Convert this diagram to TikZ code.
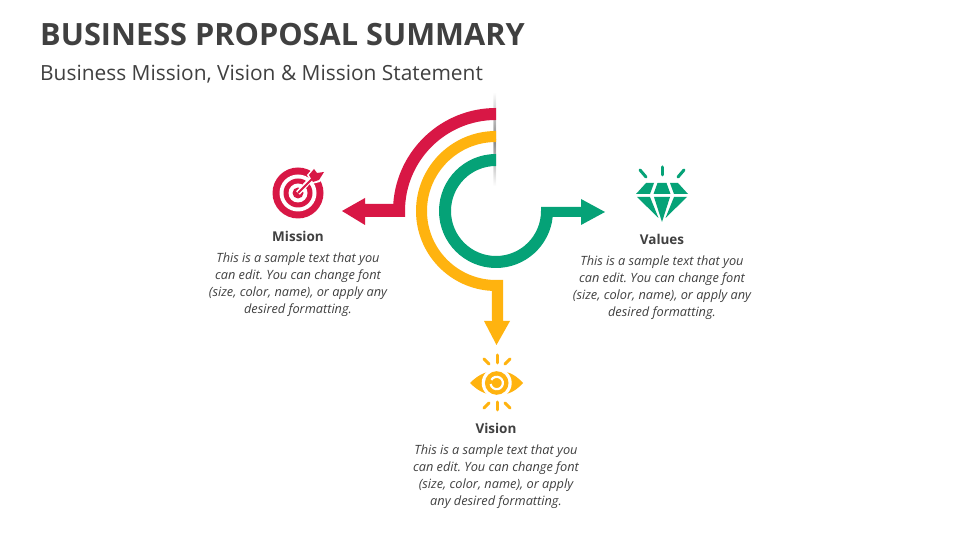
\documentclass[tikz,border=0pt]{standalone}
\usepackage{fontspec}
\setmainfont{Open Sans}
\definecolor{crim}{HTML}{D81745}
\definecolor{amber}{HTML}{FFB30F}
\definecolor{teal}{HTML}{05A277}
\definecolor{ink}{HTML}{404040}
\tikzset{
  bodytext/.style={text=ink,align=center,font=\frenchspacing\fontsize{12.75}{17}\selectfont\itshape,anchor=north},
  headtext/.style={text=ink,font=\fontsize{13.5}{16}\bfseries\selectfont,anchor=base},
  ray/.style={line width=3pt,line cap=round},
}
\begin{document}
\begin{tikzpicture}[x=1pt,y=1pt]
\useasboundingbox (0,0) rectangle (960,540);
\fill[white] (0,0) rectangle (960,540);
\node[text=ink,anchor=base west,inner sep=0pt,font=\fontsize{30.7}{36}\bfseries\selectfont] (title) at (40,494) {BUSINESS PROPOSAL SUMMARY};
\node[text=ink,anchor=base west,inner sep=0pt,font=\fontsize{20.9}{24}\selectfont] (subtitle) at (40,459) {Business Mission, Vision \& Mission Statement};
% fold shadow under the bands
\shade[top color=white,bottom color=black!50,opacity=.55] (493,448) rectangle (496,400);
\shade[top color=black!50,bottom color=white,opacity=.55] (493,400) rectangle (496,354);
\shade[top color=white,bottom color=black!60,opacity=.6] (494,448) rectangle (495.5,400);
\shade[top color=black!60,bottom color=white,opacity=.6] (494,400) rectangle (495.5,354);
% bands
\fill[crim] (496,432) arc[start angle=90,end angle=176,radius=103pt] -- (365,336) -- (365,342) -- (342,329) -- (365,315) -- (365,323) -- (405,323) -- (405,329) arc[start angle=180,end angle=90,radius=91pt] -- cycle;
\fill[amber] (496,409) arc[start angle=90,end angle=267,radius=80pt] -- (492,219) -- (484,219) -- (496.5,195) -- (510,219) -- (503,219) -- (503,260) -- (496,260) arc[start angle=270,end angle=90,radius=69pt] -- cycle;
\fill[teal] (496,386) arc[start angle=90,end angle=354,radius=57pt] -- (581,323) -- (581,315) -- (605,328) -- (581,341) -- (581,333) -- (541,333) -- (541,329) arc[start angle=0,end angle=-270,radius=45pt] -- cycle;
% target icon
\fill[crim] (298,347) circle[radius=25.5pt];
\fill[white] (298,347) circle[radius=18.5pt];
\fill[crim] (298,347) circle[radius=14.5pt];
\fill[white] (298,347) circle[radius=9.5pt];
\fill[crim] (298,347) circle[radius=5.5pt];
\draw[white,line width=5pt] (298,347) -- (313,363);
\fill[white] (307,365) -- (314,373) -- (326,369) -- (320,358) -- (312,356) -- cycle;
\draw[crim,line width=2pt] (298,347) -- (313,362);
\fill[crim] (309,365) -- (314,371) -- (317,367) -- (324,368) -- (319,360) -- (313,358) -- cycle;
% diamond icon
\draw[teal,ray] (662,373) -- (662,365);
\draw[teal,ray] (640,370) -- (646,363);
\draw[teal,ray] (684,370) -- (678,363);
\fill[teal] (636,346) -- (646,357) -- (654,357) -- (650,346) -- cycle;
\fill[teal] (653.5,346) -- (657.5,357) -- (666.5,357) -- (670.5,346) -- cycle;
\fill[teal] (688,346) -- (678,357) -- (670,357) -- (674,346) -- cycle;
\fill[teal] (637,343) -- (650,343) -- (658.5,322) -- cycle;
\fill[teal] (654,343) -- (670,343) -- (662,318) -- cycle;
\fill[teal] (687,343) -- (674,343) -- (665.5,322) -- cycle;
% eye icon
\fill[amber] (470,157) .. controls (480,167) and (488,169) .. (497,169) .. controls (506,169) and (514,167) .. (523,157) .. controls (514,147) and (506,145) .. (497,145) .. controls (488,145) and (480,147) .. (470,157) -- cycle;
\fill[white] (496.7,157) circle[radius=15pt];
\fill[amber] (496.7,157) circle[radius=11.8pt];
\draw[white,line width=2.2pt] (496.7,157) ++(150:6.2pt) arc[start angle=150,end angle=-170,radius=6.2pt];
\draw[amber,ray] (497,185) -- (497,177);
\draw[amber,ray] (484,181) -- (489,176);
\draw[amber,ray] (510,181) -- (505,176);
\draw[amber,ray] (497,138) -- (497,130);
\draw[amber,ray] (484,132) -- (489,137);
\draw[amber,ray] (510,132) -- (505,137);
% labels
\node[headtext] (missionhead) at (298,298) {Mission};
\node[headtext] (valueshead) at (662,295) {Values};
\node[headtext] (visionhead) at (496,106) {Vision};
\node[bodytext] (missionbody) at (298,291) {This is a sample text that you\\can edit. You can change font\\(size, color, name), or apply any\\desired formatting.};
\node[bodytext] (valuesbody) at (662,287.5) {This is a sample text that you\\can edit. You can change font\\(size, color, name), or apply any\\desired formatting.};
\node[bodytext] (visionbody) at (496,98.5) {This is a sample text that you\\can edit. You can change font\\(size, color, name), or apply\\any desired formatting.};
\end{tikzpicture}
\end{document}
